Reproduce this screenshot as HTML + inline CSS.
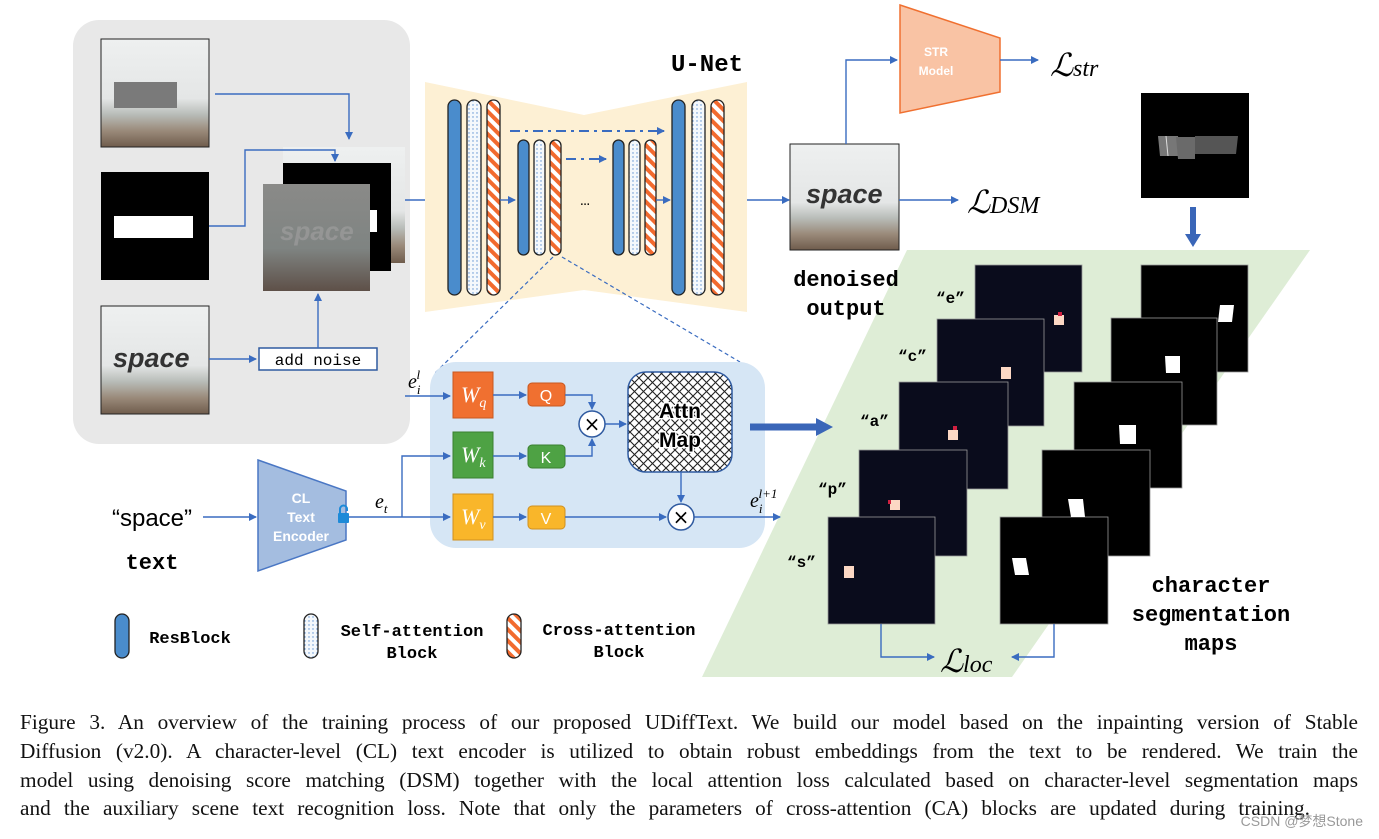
<!DOCTYPE html>
<html><head><meta charset="utf-8"><style>
body{margin:0;background:#fff;width:1379px;height:839px;overflow:hidden;position:relative;font-family:"Liberation Sans",sans-serif}
.cap{position:absolute;left:20px;width:1338px;font-family:"Liberation Serif",serif;font-size:21.3px;color:#111;text-align:justify;text-align-last:justify;white-space:nowrap;line-height:24px}
.wm{position:absolute;right:16px;top:811px;font-size:14px;color:#999}
</style></head><body>
<svg width="1379" height="700" style="position:absolute;left:0;top:0" font-family="Liberation Mono, monospace">
<defs>
<pattern id="dots" width="4" height="4" patternUnits="userSpaceOnUse"><rect width="4" height="4" fill="#f4f8fc"/><circle cx="1" cy="1" r="0.7" fill="#5b8fd0"/></pattern>
<pattern id="str" width="8" height="8" patternUnits="userSpaceOnUse" patternTransform="rotate(-45)"><rect width="8" height="8" fill="#fff"/><rect width="4" height="8" fill="#f26a2e"/></pattern>
<pattern id="hatch" width="9" height="9" patternUnits="userSpaceOnUse"><rect width="9" height="9" fill="#fff"/><path d="M0 0L9 9M9 0L0 9" stroke="#222" stroke-width="1.1"/></pattern>
<linearGradient id="photo" x1="0" y1="0" x2="0" y2="1"><stop offset="0" stop-color="#eef0f0"/><stop offset="0.55" stop-color="#e4e6e6"/><stop offset="0.7" stop-color="#b8bcb8"/><stop offset="0.85" stop-color="#9a8a7a"/><stop offset="1" stop-color="#6f5c4c"/></linearGradient>
<linearGradient id="noisy" x1="0" y1="0" x2="0" y2="1"><stop offset="0" stop-color="#8a8a88"/><stop offset="0.6" stop-color="#7f8482"/><stop offset="1" stop-color="#5e5048"/></linearGradient>
<marker id="ar" markerWidth="8" markerHeight="8" refX="7" refY="4" orient="auto" markerUnits="userSpaceOnUse"><path d="M0 0L8 4L0 8z" fill="#3a6cc0"/></marker>
</defs>
<!-- green parallelogram -->
<path d="M907 250H1310L1012 677H702Z" fill="#deedd6"/>
<!-- gray panel -->
<rect x="73" y="20" width="337" height="424" rx="26" fill="#e8e8e8"/>
<rect x="101" y="39" width="108" height="108" fill="url(#photo)" stroke="#222"/>
<rect x="114" y="82" width="63" height="26" fill="#7a7a7a"/>
<rect x="101" y="172" width="108" height="108" fill="#000"/>
<rect x="114" y="216" width="79" height="22" fill="#fff"/>
<rect x="101" y="306" width="108" height="108" fill="url(#photo)" stroke="#222"/>
<text x="113" y="367" font-family="Liberation Sans,sans-serif" font-weight="bold" font-style="italic" font-size="27" fill="#333">space</text>
<rect x="283" y="147" width="122" height="116" fill="url(#photo)"/>
<rect x="283" y="163" width="108" height="108" fill="#000"/>
<rect x="363" y="210" width="14" height="22" fill="#fff"/>
<rect x="263" y="184" width="107" height="107" fill="url(#noisy)"/>
<text x="280" y="240" font-family="Liberation Sans,sans-serif" font-weight="bold" font-style="italic" font-size="26" fill="#9a9a9a" opacity="0.8">space</text>
<rect x="259" y="348" width="118" height="22" fill="#fff" stroke="#2f5aa0" stroke-width="1.5"/>
<text x="318" y="365" font-size="16" text-anchor="middle" fill="#000">add noise</text>
<g stroke="#3a6cc0" stroke-width="1.4" fill="none">
<path d="M215 94H349V139" marker-end="url(#ar)"/>
<path d="M209 226H245V150H335V161" marker-end="url(#ar)"/>
<path d="M209 359H256" marker-end="url(#ar)"/>
<path d="M318 348V294" marker-end="url(#ar)"/>
<path d="M405 200H444" marker-end="url(#ar)"/>
<path d="M724 200H789" marker-end="url(#ar)"/>
</g>
<!-- unet bg -->
<path d="M425 82L584 115L747 82V312L584 290L425 312Z" fill="#fdf0d4"/>
<text x="707" y="71" font-size="24" font-weight="bold" text-anchor="middle">U-Net</text>
<g stroke="#222" stroke-width="1.3">
<rect x="448" y="100" width="13" height="195" rx="6.5" fill="#4a8ccc"/>
<rect x="467" y="100" width="14" height="195" rx="7" fill="url(#dots)"/>
<rect x="487" y="100" width="13" height="195" rx="6.5" fill="url(#str)"/>
<rect x="518" y="140" width="11" height="115" rx="5.5" fill="#4a8ccc"/>
<rect x="534" y="140" width="11" height="115" rx="5.5" fill="url(#dots)"/>
<rect x="550" y="140" width="11" height="115" rx="5.5" fill="url(#str)"/>
<rect x="613" y="140" width="11" height="115" rx="5.5" fill="#4a8ccc"/>
<rect x="629" y="140" width="11" height="115" rx="5.5" fill="url(#dots)"/>
<rect x="645" y="140" width="11" height="115" rx="5.5" fill="url(#str)"/>
<rect x="672" y="100" width="13" height="195" rx="6.5" fill="#4a8ccc"/>
<rect x="692" y="100" width="13" height="195" rx="6.5" fill="url(#dots)"/>
<rect x="711" y="100" width="13" height="195" rx="6.5" fill="url(#str)"/>
</g>
<g stroke="#3a6cc0" stroke-width="1.4" fill="none">
<path d="M500 200H515" marker-end="url(#ar)"/><path d="M656 200H670" marker-end="url(#ar)"/>
<path d="M510 131H664" stroke-width="2" stroke-dasharray="10 5 3 5" marker-end="url(#ar)"/>
<path d="M566 159H606" stroke-width="2" stroke-dasharray="10 5 3 5" marker-end="url(#ar)"/>
</g>
<text x="585" y="205" font-size="16" text-anchor="middle">…</text>
<path d="M553 257L435 373M562 257L740 362" stroke="#3a6cc0" stroke-width="1.2" stroke-dasharray="4 3" fill="none"/>
<!-- denoised output -->
<rect x="790" y="144" width="109" height="106" fill="url(#photo)" stroke="#222"/>
<text x="806" y="203" font-family="Liberation Sans,sans-serif" font-weight="bold" font-style="italic" font-size="27" fill="#333">space</text>
<text x="846" y="286" font-size="22" font-weight="bold" text-anchor="middle">denoised</text>
<text x="846" y="315" font-size="22" font-weight="bold" text-anchor="middle">output</text>
<path d="M900 5L1000 38V92L900 113Z" fill="#f9c3a4" stroke="#f07030" stroke-width="1.5"/>
<text x="936" y="56" font-family="Liberation Sans,sans-serif" font-size="12" font-weight="bold" fill="#fff" text-anchor="middle">STR</text>
<text x="936" y="75" font-family="Liberation Sans,sans-serif" font-size="12" font-weight="bold" fill="#fff" text-anchor="middle">Model</text>
<g stroke="#3a6cc0" stroke-width="1.4" fill="none">
<path d="M846 144V60H897" marker-end="url(#ar)"/>
<path d="M1000 60H1038" marker-end="url(#ar)"/>
<path d="M899 200H958" marker-end="url(#ar)"/>
</g>
<text x="1050" y="76" font-family="Liberation Serif,serif" font-style="italic" font-size="32">ℒ<tspan font-size="24">str</tspan></text>
<text x="967" y="213" font-family="Liberation Serif,serif" font-style="italic" font-size="32">ℒ<tspan font-size="24">DSM</tspan></text>
<rect x="1141" y="93" width="108" height="105" fill="#000"/>
<path d="M1158 136H1178L1180 156H1160Z" fill="#777"/><path d="M1176 137H1195V159H1178Z" fill="#6a6a6a"/><path d="M1195 136H1238L1236 154H1195Z" fill="#555"/>
<line x1="1166" y1="136" x2="1168" y2="156" stroke="#ddd" stroke-width="1"/>
<path d="M1193 207V236" stroke="#3a66b8" stroke-width="6"/><path d="M1185 234L1193 247L1201 234Z" fill="#3a66b8"/>
<!-- attention box -->
<rect x="430" y="362" width="335" height="186" rx="26" fill="#d6e6f5"/>
<rect x="453" y="372" width="40" height="46" fill="#f07030" stroke="#c85820"/>
<rect x="453" y="432" width="40" height="46" fill="#4ea244" stroke="#3a8030"/>
<rect x="453" y="494" width="40" height="46" fill="#f9b62a" stroke="#d09020"/>
<g font-family="Liberation Serif,serif" font-style="italic" fill="#fff" font-size="22">
<text x="461" y="402">W<tspan font-size="14" dy="5">q</tspan></text>
<text x="461" y="462">W<tspan font-size="14" dy="5">k</tspan></text>
<text x="461" y="524">W<tspan font-size="14" dy="5">v</tspan></text>
</g>
<rect x="528" y="383" width="37" height="23" rx="4" fill="#f07030" stroke="#c85820"/>
<rect x="528" y="445" width="37" height="23" rx="4" fill="#4ea244" stroke="#3a8030"/>
<rect x="528" y="506" width="37" height="23" rx="4" fill="#f9b62a" stroke="#d09020"/>
<g font-family="Liberation Sans,sans-serif" fill="#fff" font-size="16" text-anchor="middle">
<text x="546" y="401">Q</text><text x="546" y="463">K</text><text x="546" y="524">V</text>
</g>
<rect x="628" y="372" width="104" height="100" rx="18" fill="url(#hatch)" stroke="#2f5aa0" stroke-width="1.5"/>
<text x="680" y="418" font-family="Liberation Sans,sans-serif" font-size="21" font-weight="bold" text-anchor="middle" stroke="#fff" stroke-width="3" paint-order="stroke">Attn</text>
<text x="680" y="447" font-family="Liberation Sans,sans-serif" font-size="21" font-weight="bold" text-anchor="middle" stroke="#fff" stroke-width="3" paint-order="stroke">Map</text>
<g stroke="#3a6cc0" stroke-width="1.4" fill="none">
<path d="M405 396H450" marker-end="url(#ar)"/>
<path d="M493 395H526" marker-end="url(#ar)"/>
<path d="M493 456H526" marker-end="url(#ar)"/>
<path d="M493 517H526" marker-end="url(#ar)"/>
<path d="M565 395H592V409" marker-end="url(#ar)"/>
<path d="M565 456H592V439" marker-end="url(#ar)"/>
<path d="M605 424H626" marker-end="url(#ar)"/>
<path d="M681 472V502" marker-end="url(#ar)"/>
<path d="M565 517H666" marker-end="url(#ar)"/>
<path d="M694 517H780" marker-end="url(#ar)"/>
<path d="M203 517H256" marker-end="url(#ar)"/>
<path d="M346 517H450" marker-end="url(#ar)"/>
<path d="M402 517V456H450" marker-end="url(#ar)"/>
</g>
<circle cx="592" cy="424" r="13" fill="#fff" stroke="#2f5aa0" stroke-width="1.5"/>
<circle cx="681" cy="517" r="13" fill="#fff" stroke="#2f5aa0" stroke-width="1.5"/>
<text x="592" y="431" font-size="20" text-anchor="middle" font-family="DejaVu Sans,sans-serif">×</text>
<text x="681" y="524" font-size="20" text-anchor="middle" font-family="DejaVu Sans,sans-serif">×</text>
<g font-family="Liberation Serif,serif" font-style="italic" font-size="20">
<text x="408" y="388">e<tspan font-size="13" dy="6">i</tspan><tspan font-size="13" dx="-4" dy="-15">l</tspan></text>
<text x="375" y="508">e<tspan font-size="13" dy="5">t</tspan></text>
<text x="750" y="507">e<tspan font-size="13" dy="6">i</tspan><tspan font-size="13" dx="-4" dy="-15">l+1</tspan></text>
</g>
<path d="M750 427H818" stroke="#3a66b8" stroke-width="7"/><path d="M816 418L833 427L816 436Z" fill="#3a66b8"/>
<path d="M258 460L346 491V540L258 571Z" fill="#a4bde0" stroke="#4a77c4" stroke-width="1.5"/>
<g font-family="Liberation Sans,sans-serif" font-size="14" font-weight="bold" fill="#fff" text-anchor="middle">
<text x="301" y="503">CL</text><text x="301" y="522">Text</text><text x="301" y="541">Encoder</text></g>
<rect x="338" y="513" width="11" height="10" rx="1" fill="#1d8ad8"/><path d="M340 514V509A3.5 3.5 0 0 1 347 509V511" stroke="#1d8ad8" stroke-width="2" fill="none"/>
<text x="152" y="526" font-family="Liberation Sans,sans-serif" font-size="24" text-anchor="middle">“space”</text>
<text x="152" y="569" font-size="22" font-weight="bold" text-anchor="middle">text</text>
<rect x="115" y="614" width="14" height="44" rx="7" fill="#4a8ccc" stroke="#222" stroke-width="1.3"/>
<rect x="304" y="614" width="14" height="44" rx="7" fill="url(#dots)" stroke="#222" stroke-width="1.3"/>
<rect x="507" y="614" width="14" height="44" rx="7" fill="url(#str)" stroke="#222" stroke-width="1.3"/>
<g font-size="17" font-weight="bold" text-anchor="middle">
<text x="190" y="643">ResBlock</text>
<text x="412" y="636">Self-attention</text><text x="412" y="658">Block</text>
<text x="619" y="635">Cross-attention</text><text x="619" y="657">Block</text>
</g>
<g stroke="#999" stroke-width="0.8">
<rect x="975" y="265" width="107" height="107" fill="#0a0c1c"/>
<rect x="937" y="319" width="107" height="107" fill="#0a0c1c"/>
<rect x="899" y="382" width="109" height="107" fill="#0a0c1c"/>
<rect x="859" y="450" width="108" height="106" fill="#0a0c1c"/>
<rect x="828" y="517" width="107" height="107" fill="#0a0c1c"/>
<rect x="1141" y="265" width="107" height="107" fill="#000"/>
<rect x="1111" y="318" width="106" height="107" fill="#000"/>
<rect x="1074" y="382" width="108" height="106" fill="#000"/>
<rect x="1042" y="450" width="108" height="106" fill="#000"/>
<rect x="1000" y="517" width="108" height="107" fill="#000"/>
</g>
<g fill="#fcd8c4">
<rect x="1054" y="315" width="10" height="10"/><rect x="1001" y="367" width="10" height="12"/>
<rect x="948" y="430" width="10" height="10"/><rect x="890" y="500" width="10" height="10"/><rect x="844" y="566" width="10" height="12"/>
</g>
<g fill="#d02040"><rect x="1058" y="312" width="4" height="4"/><rect x="953" y="426" width="4" height="4"/><rect x="888" y="500" width="3" height="4"/></g>
<g fill="#fff">
<path d="M1220 305H1234L1232 322H1218Z"/><path d="M1165 356H1180V373H1166Z"/><path d="M1119 425H1136V444H1120Z"/>
<path d="M1068 499H1083L1085 517H1071Z"/><path d="M1012 558H1026L1029 575H1015Z"/>
</g>
<g font-size="16" font-weight="bold">
<text x="936" y="303">“e”</text><text x="898" y="361">“c”</text><text x="860" y="426">“a”</text><text x="818" y="494">“p”</text><text x="787" y="567">“s”</text>
</g>
<g stroke="#3a6cc0" stroke-width="1.4" fill="none">
<path d="M881 624V657H934" marker-end="url(#ar)"/>
<path d="M1054 624V657H1012" marker-end="url(#ar)"/>
</g>
<text x="940" y="672" font-family="Liberation Serif,serif" font-style="italic" font-size="32">ℒ<tspan font-size="24">loc</tspan></text>
<g font-size="22" font-weight="bold" text-anchor="middle">
<text x="1211" y="592">character</text><text x="1211" y="621">segmentation</text><text x="1211" y="650">maps</text>
</g>
</svg>
<div class="cap" style="top:710px">Figure 3. An overview of the training process of our proposed UDiffText. We build our model based on the inpainting version of Stable</div>
<div class="cap" style="top:739px">Diffusion (v2.0). A character-level (CL) text encoder is utilized to obtain robust embeddings from the text to be rendered. We train the</div>
<div class="cap" style="top:768px">model using denoising score matching (DSM) together with the local attention loss calculated based on character-level segmentation maps</div>
<div class="cap" style="top:796px;width:1290px">and the auxiliary scene text recognition loss. Note that only the parameters of cross-attention (CA) blocks are updated during training.</div>
<div class="wm">CSDN @梦想Stone</div>
</body></html>
